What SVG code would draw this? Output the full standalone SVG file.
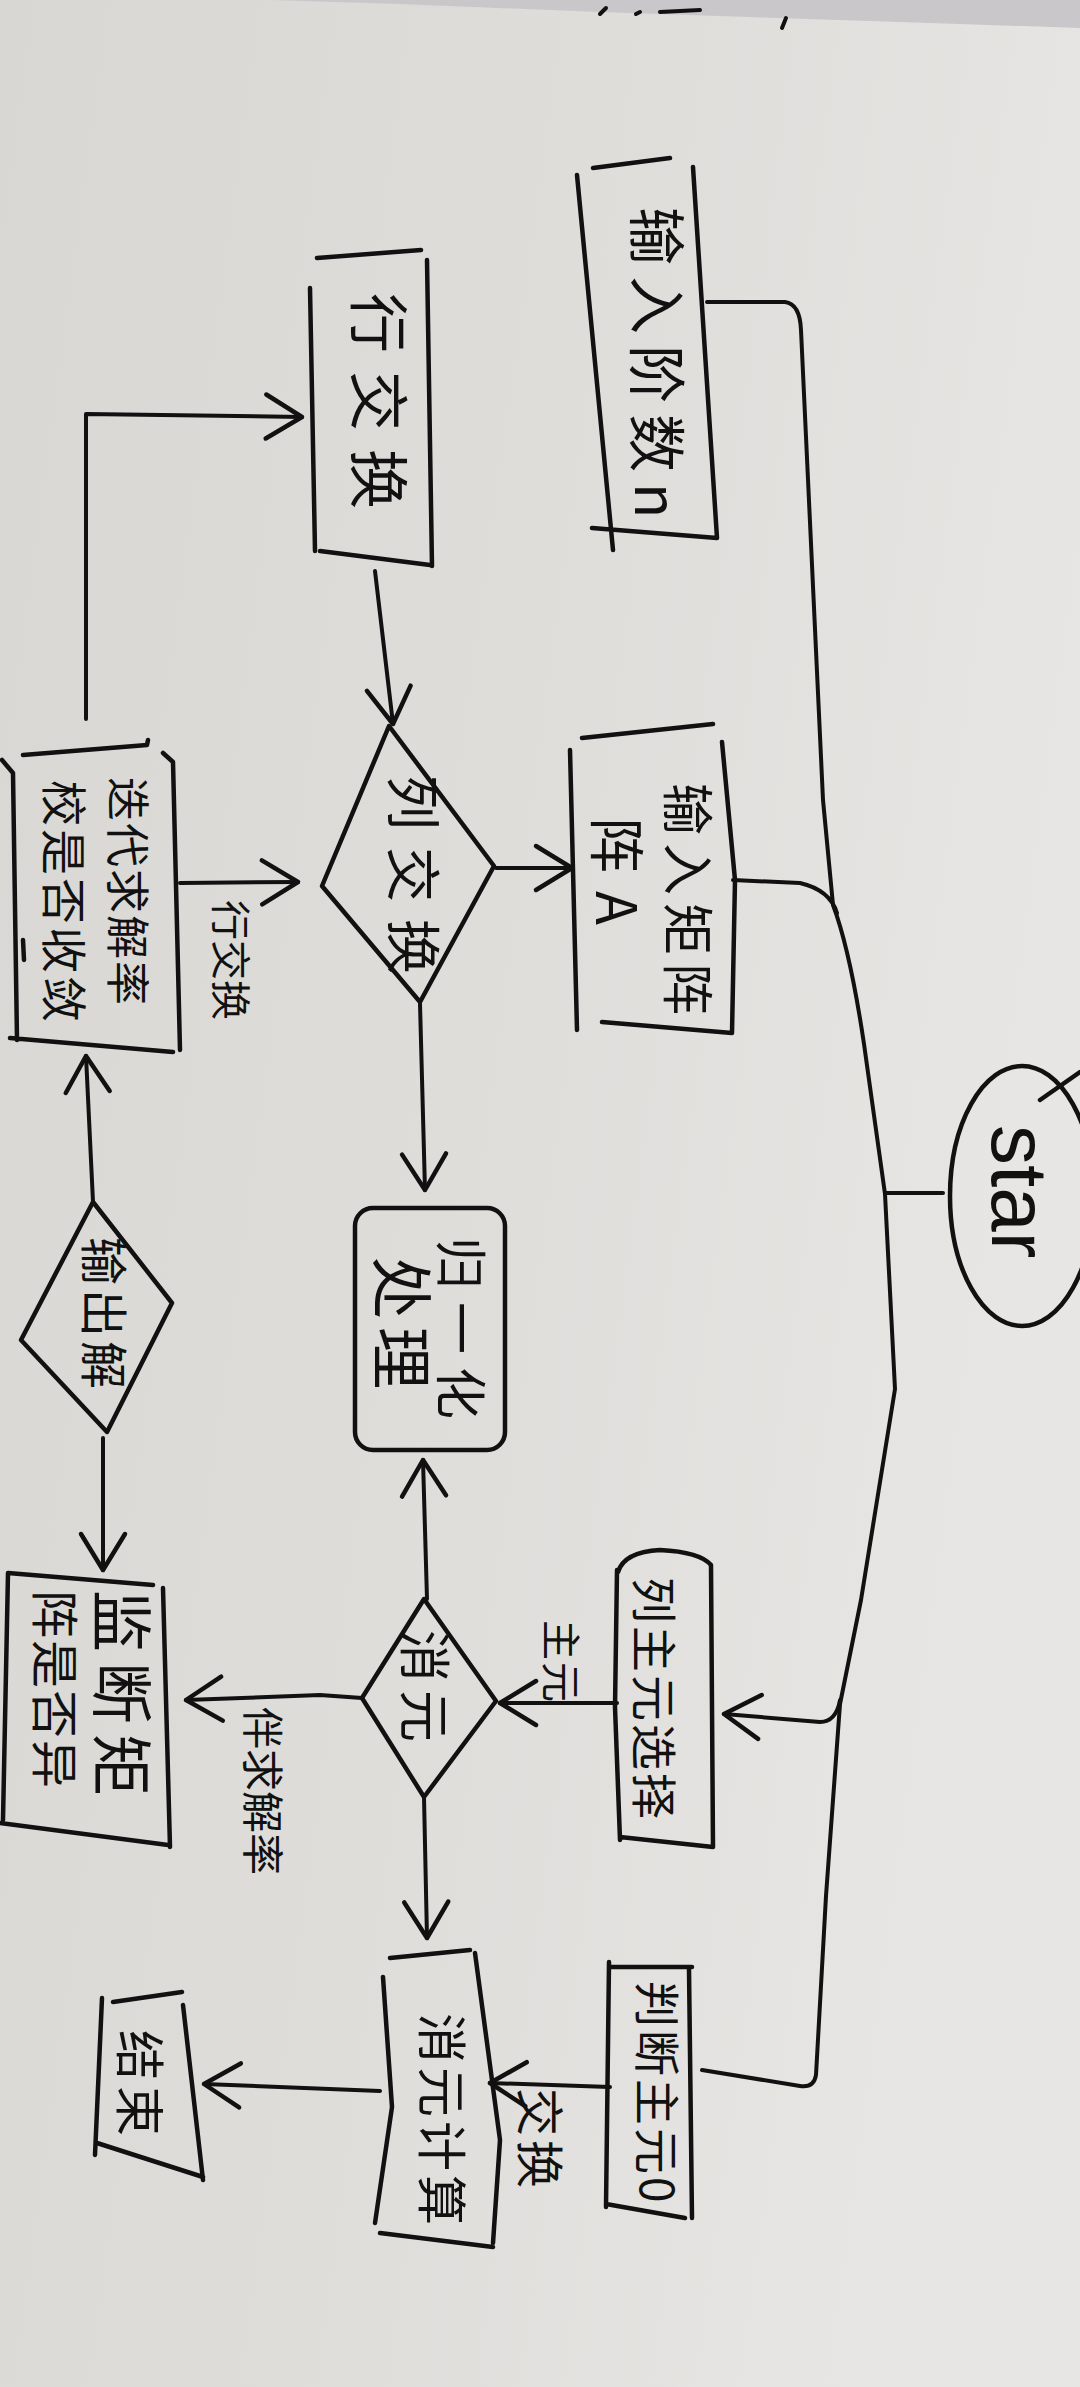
<svg xmlns="http://www.w3.org/2000/svg" width="1080" height="2387" viewBox="0 0 1080 2387">
<defs>
<linearGradient id="paper" x1="0" y1="0" x2="1" y2="0.3">
<stop offset="0" stop-color="#d9d7d3"/>
<stop offset="0.6" stop-color="#e0dedb"/>
<stop offset="1" stop-color="#e8e6e4"/>
</linearGradient>
<marker id="ah" viewBox="-44 -28 50 56" refX="0" refY="0" markerWidth="50" markerHeight="56" markerUnits="userSpaceOnUse" orient="auto">
<path d="M-36,-22 L0,0 L-36,22" fill="none" stroke="#111" stroke-width="4.5" stroke-linecap="round" stroke-linejoin="round"/>
</marker>
<style>
.ln{fill:none;stroke:#111;stroke-width:4.5;stroke-linecap:round;stroke-linejoin:round}
.cn{fill:none;stroke:#111;stroke-width:4;stroke-linecap:round;stroke-linejoin:round}
.ar{marker-end:url(#ah)}
.t{font-family:"Noto Sans CJK SC","Noto Sans",sans-serif;fill:#111;dominant-baseline:central}
.s{font-family:"Liberation Sans",sans-serif;fill:#111}
</style>
</defs>
<rect width="1080" height="2387" fill="url(#paper)"/>
<polygon points="270,0 1080,0 1080,28 900,22 600,12 400,4" fill="#c9c7c9"/>
<g id="marks" class="cn">
<path d="M600,14 L606,8"/><path d="M636,14 L640,12"/><path d="M660,12 L700,10"/><path d="M786,18 L782,28"/>
</g>

<g id="connectors">
<path class="cn" d="M707,302 L785,302 Q800,304 801,330 L823,800 L833,905 Q850,950 864,1044 L885,1194 L895,1389 L861,1600 L840,1704 L826,1896 L816,2075 Q814,2088 800,2086 L702,2070"/>
<path class="cn" d="M733,880 L800,883 Q830,890 837,913"/>
<path class="cn" d="M885,1193 L943,1193"/>
<path class="cn ar" d="M840,1700 Q836,1722 820,1722 L724,1714"/>
<path class="cn ar" d="M375,571 L393,724"/>
<path class="cn ar" d="M86,719 L86,414 L302,417"/>
<path class="cn ar" d="M496,868 L572,868"/>
<path class="cn ar" d="M180,883 L298,882"/>
<path class="cn ar" d="M420,1004 L425,1190"/>
<path class="cn ar" d="M427,1599 L423,1460"/>
<path class="cn ar" d="M617,1703 L500,1703"/>
<path class="cn ar" d="M362,1698 L320,1695 L186,1700"/>
<path class="cn ar" d="M424,1797 L427,1938"/>
<path class="cn ar" d="M610,2087 L490,2083"/>
<path class="cn ar" d="M380,2091 L204,2084"/>
<path class="cn ar" d="M93,1202 L86,1056"/>
<path class="cn ar" d="M103,1438 L103,1570"/>
</g>

<g id="n_input_n">
<path class="ln" d="M593,168 L670,158 M577,175 L613,550 M693,167 L717,538 M592,528 L717,538"/>
<text class="t" font-size="58" letter-spacing="11" transform="translate(660,207) rotate(90)">输入阶数n</text>
</g>

<g id="n_row_swap">
<path class="ln" d="M317,258 L421,250 M310,288 L315,551 M427,260 L432,566 M320,551 L430,565"/>
<text class="t" font-size="60" letter-spacing="18" transform="translate(382,293) rotate(90)">行交换</text>
</g>

<g id="n_input_A">
<path class="ln" d="M582,738 L713,724 M570,750 L577,1030 M722,742 L735,880 L732,1033 M602,1022 L732,1033"/>
<text class="t" font-size="52" letter-spacing="8" transform="translate(690,783) rotate(90)">输入矩阵</text>
<text class="t" font-size="56" letter-spacing="18" transform="translate(620,817) rotate(90)">阵A</text>
</g>

<g id="n_col_swap">
<polygon class="ln" points="389,726 494,866 420,1002 322,886"/>
<text class="t" font-size="55" letter-spacing="17" transform="translate(417,775) rotate(90)">列交换</text>
</g>

<g id="l_row_swap">
<text class="t" font-size="40" transform="translate(233,900) rotate(90)">行交换</text>
</g>

<g id="n_iterate">
<path class="ln" d="M23,755 L147,745 L148,740 M2,760 L13,773 L17,1040 M163,753 L173,762 L180,1050 M10,1038 L173,1052 M23,940 L24,960"/>
<text class="t" font-size="44" letter-spacing="2" transform="translate(130,777) rotate(90)">迭代求解率</text>
<text class="t" font-size="46" letter-spacing="3" transform="translate(67,780) rotate(90)">校是否收敛</text>
</g>

<g id="n_start">
<ellipse class="ln" cx="1022" cy="1196" rx="72" ry="130"/>
<path class="ln" d="M1040,1100 L1080,1072"/>
<text class="s" font-size="80" transform="translate(992,1125) rotate(90)">star</text>
</g>

<g id="n_normalize">
<rect class="ln" x="355" y="1208" width="150" height="242" rx="18"/>
<text class="t" font-size="52" letter-spacing="13" transform="translate(463,1237) rotate(90)">归一化</text>
<text class="t" font-size="62" letter-spacing="8" transform="translate(405,1257) rotate(90)">处理</text>
</g>

<g id="n_output">
<polygon class="ln" points="93,1202 172,1303 107,1432 21,1340"/>
<text class="t" font-size="48" letter-spacing="4" transform="translate(107,1237) rotate(90)">输出解</text>
</g>

<g id="n_check">
<path class="ln" d="M8,1573 L153,1585 M163,1588 L170,1847 M0,1823 L168,1845 M8,1573 L3,1820"/>
<text class="t" font-size="62" letter-spacing="10" transform="translate(125,1590) rotate(90)">监断矩</text>
<text class="t" font-size="48" letter-spacing="2" transform="translate(58,1590) rotate(90)">阵是否异</text>
</g>

<g id="l_solve">
<text class="t" font-size="42" transform="translate(265,1707) rotate(90)">伴求解率</text>
</g>

<g id="n_elim">
<polygon class="ln" points="424,1599 496,1701 424,1797 362,1698"/>
<text class="t" font-size="52" letter-spacing="8" transform="translate(427,1630) rotate(90)">消元</text>
</g>

<g id="n_pivot_select">
<path class="ln" d="M618,1572 Q624,1552 660,1550 Q700,1552 711,1565 L713,1847 M617,1570 L615,1707 L620,1840 M620,1837 L713,1847"/>
<text class="t" font-size="46" letter-spacing="3" transform="translate(657,1577) rotate(90)">列主元选择</text>
</g>

<g id="l_pivot">
<text class="t" font-size="40" letter-spacing="2" transform="translate(563,1620) rotate(90)">主元</text>
</g>

<g id="n_pivot_zero">
<path class="ln" d="M609,1967 L692,1967 M609,1962 L606,2207 M689,1969 L692,2218 M606,2204 L685,2218"/>
<text class="t" font-size="46" letter-spacing="3" transform="translate(660,1981) rotate(90)">判断主元0</text>
</g>

<g id="l_swap">
<text class="t" font-size="48" letter-spacing="4" transform="translate(543,2088) rotate(90)">交换</text>
</g>

<g id="n_elim_calc">
<path class="ln" d="M390,1958 L470,1950 M383,1977 L392,2107 L375,2223 M475,1953 L500,2140 L493,2243 M380,2233 L493,2247"/>
<text class="t" font-size="50" letter-spacing="4" transform="translate(445,2013) rotate(90)">消元计算</text>
</g>

<g id="n_end">
<path class="ln" d="M113,2002 L182,1992 M102,1998 L95,2155 M183,2005 L203,2180 M97,2143 L203,2177"/>
<text class="t" font-size="50" letter-spacing="6" transform="translate(143,2030) rotate(90)">结束</text>
</g>
</svg>
